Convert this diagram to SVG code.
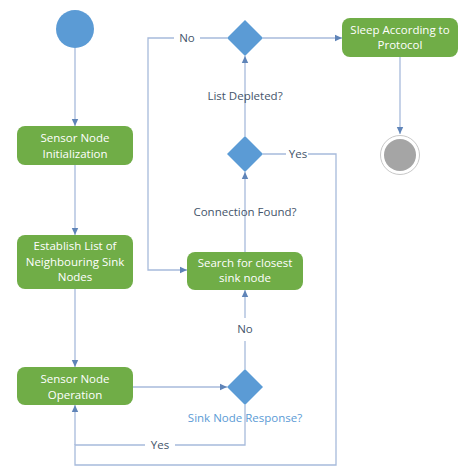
<svg xmlns="http://www.w3.org/2000/svg" width="474" height="474" viewBox="0 0 474 474">
<style>
.node{fill:#70AD47;}
.nt{fill:#ffffff;font-family:"Open Sans","Noto Sans",sans-serif;font-size:11.5px;text-anchor:middle;}
.dia{fill:#5B9BD5;}
.ln{fill:none;stroke:#A7BADB;stroke-width:1.3;}
.lbl{fill:#44546A;font-family:"Open Sans","Noto Sans",sans-serif;font-size:11.5px;text-anchor:middle;}
.lblb{fill:#5B9BD5;font-family:"Open Sans","Noto Sans",sans-serif;font-size:11.5px;text-anchor:middle;}
</style>
<defs>
<marker id="arr" markerWidth="8" markerHeight="8" refX="7" refY="4" orient="auto" markerUnits="userSpaceOnUse">
<path d="M0,0.8 L7,4 L0,7.2 Z" fill="#5F84B8"/>
</marker>
</defs>
<rect width="474" height="474" fill="#ffffff"/>
<g id="connectors">
<path class="ln" d="M75,48 V126" marker-end="url(#arr)"/>
<path class="ln" d="M75,165 V235" marker-end="url(#arr)"/>
<path class="ln" d="M75,289 V367" marker-end="url(#arr)"/>
<path class="ln" d="M133,387 H227" marker-end="url(#arr)"/>
<path class="ln" d="M245,369 V341 M245,318 V290" marker-end="url(#arr)"/>
<path class="ln" d="M245,405 V445 H175 M145,445 H75 V465 H336 V154 H308 M286,154 H263"/>
<path class="ln" d="M75,445 V405" marker-end="url(#arr)"/>
<path class="ln" d="M245,252 V172" marker-end="url(#arr)"/>
<path class="ln" d="M245,136 V56" marker-end="url(#arr)"/>
<path class="ln" d="M227,38 H200 M174,38 H148 V270 H187" marker-end="url(#arr)"/>
<path class="ln" d="M263,38 H342" marker-end="url(#arr)"/>
<path class="ln" d="M400,57 V134" marker-end="url(#arr)"/>
<text class="lbl" x="187" y="42">No</text>
<text class="lbl" x="245" y="100">List Depleted?</text>
<text class="lbl" x="298" y="158">Yes</text>
<text class="lbl" x="245" y="216">Connection Found?</text>
<text class="lbl" x="245" y="333">No</text>
<text class="lblb" x="245" y="422">Sink Node Response?</text>
<text class="lbl" x="160" y="449">Yes</text>
</g>
<g id="start"><circle cx="75" cy="29" r="19" fill="#5B9BD5"/></g>
<g id="init"><rect class="node" x="17" y="126" width="116" height="39" rx="8"/>
<text class="nt" x="75" y="142">Sensor Node</text><text class="nt" x="75" y="157.5">Initialization</text></g>
<g id="establish"><rect class="node" x="17" y="235" width="116" height="54" rx="8"/>
<text class="nt" x="75" y="250">Establish List of</text><text class="nt" x="75" y="265.5">Neighbouring Sink</text><text class="nt" x="75" y="281">Nodes</text></g>
<g id="operation"><rect class="node" x="17" y="367" width="116" height="38" rx="8"/>
<text class="nt" x="75" y="383">Sensor Node</text><text class="nt" x="75" y="398.5">Operation</text></g>
<g id="search"><rect class="node" x="187" y="252" width="116" height="38" rx="8"/>
<text class="nt" x="245" y="266.5">Search for closest</text><text class="nt" x="245" y="282">sink node</text></g>
<g id="sleep"><rect class="node" x="342" y="18" width="116" height="39" rx="8"/>
<text class="nt" x="400" y="33.5">Sleep According to</text><text class="nt" x="400" y="49">Protocol</text></g>
<g id="d-list"><path class="dia" d="M245,20 L263,38 L245,56 L227,38 Z"/></g>
<g id="d-conn"><path class="dia" d="M245,136 L263,154 L245,172 L227,154 Z"/></g>
<g id="d-sink"><path class="dia" d="M245,369 L263,387 L245,405 L227,387 Z"/></g>
<g id="end"><circle cx="400" cy="155" r="19.5" fill="#ffffff" stroke="#C8C8C8" stroke-width="1"/><circle cx="400" cy="155" r="16" fill="#A5A5A5"/></g>
</svg>
